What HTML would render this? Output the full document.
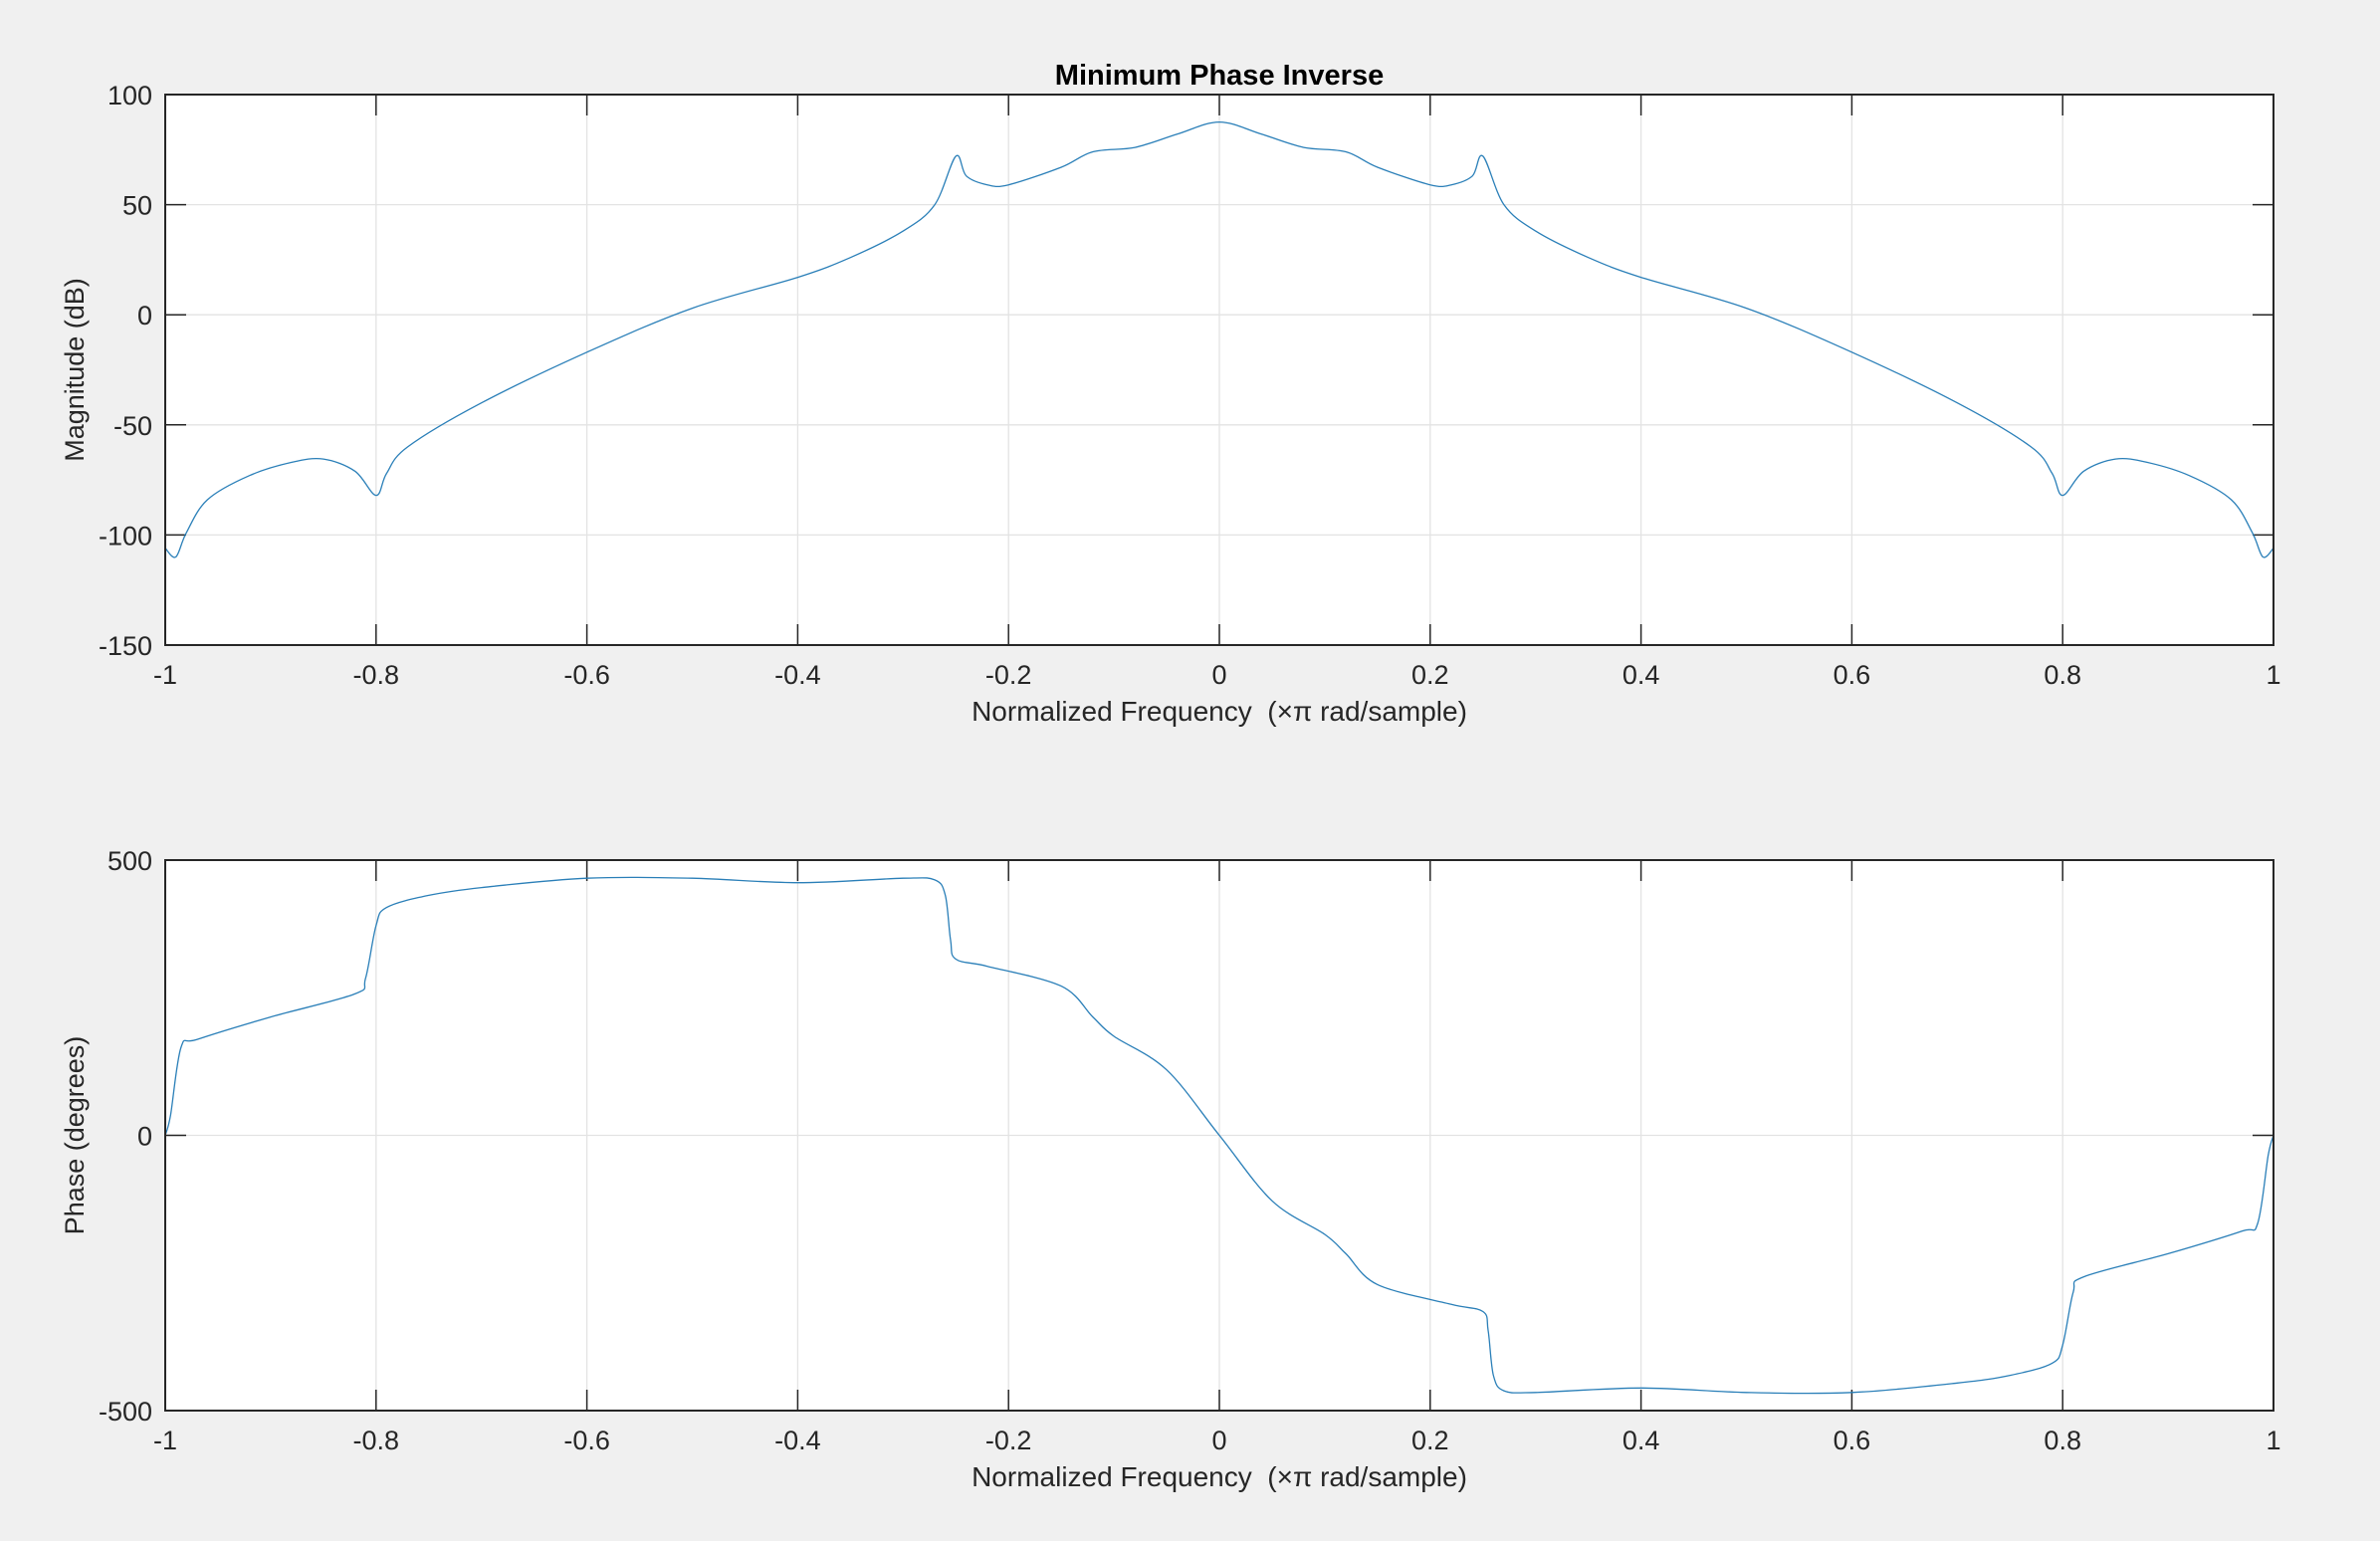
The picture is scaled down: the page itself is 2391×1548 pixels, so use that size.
<!DOCTYPE html>
<html><head><meta charset="utf-8"><style>
html,body{margin:0;padding:0;background:#f0f0f0;}
svg text{font-family:"Liberation Sans",Arial,sans-serif;fill:#262626;white-space:pre;}
</style></head><body>
<svg id="fig" width="2391" height="1543" viewBox="0 0 2391 1543" xmlns="http://www.w3.org/2000/svg">
<rect width="2391" height="1543" fill="#f0f0f0"/>
<text x="1225" y="85" text-anchor="middle" font-size="29" font-weight="bold" style="fill:#000">Minimum Phase Inverse</text>
<g id="top"></g>
<g id="bot"></g>
</svg>
<script>
const magX = [-1,-0.99,-0.98,-0.96,-0.92,-0.88,-0.85,-0.82,-0.8,-0.79,-0.77,-0.7,-0.6,-0.5,-0.4,-0.35,-0.3,-0.27,-0.25,-0.24,-0.22,-0.2,-0.15,-0.12,-0.08,-0.04,0];
const magY = [-106,-110,-99,-84,-73,-67,-65.5,-71,-82,-72,-60,-40,-17,3,17,26,38,50,72,63,59,59,67,74,76,82,87.5];
const phX = [-1,-0.995,-0.985,-0.97,-0.9,-0.82,-0.81,-0.8,-0.79,-0.75,-0.7,-0.6,-0.5,-0.4,-0.3,-0.27,-0.26,-0.255,-0.25,-0.22,-0.15,-0.12,-0.1,-0.05,0];
const phY = [0,36,160,174,215,257,285,381,414,436,450,467,467,459,467,464,436,354,320,307,271,215,180,119,0];
const xTicks = [-1,-0.8,-0.6,-0.4,-0.2,0,0.2,0.4,0.6,0.8,1];
const xTickLabels = ["-1","-0.8","-0.6","-0.4","-0.2","0","0.2","0.4","0.6","0.8","1"];
const magTicks = [-150,-100,-50,0,50,100];
const phTicks = [-500,0,500];

const NS="http://www.w3.org/2000/svg";
function mk(parent,tag,attrs){const e=document.createElementNS(NS,tag);for(const k in attrs)e.setAttribute(k,attrs[k]);parent.appendChild(e);return e;}
const L=166,R=2284;
function sx(v){return L+(v+1)/2*(R-L);}

function mirror(xs,ys,odd){
  const X=xs.slice(),Y=ys.slice();
  for(let i=xs.length-2;i>=0;i--){X.push(-xs[i]);Y.push(odd?-ys[i]:ys[i]);}
  return [X,Y];
}
function spline(px,py){
  let d="M"+px[0].toFixed(1)+","+py[0].toFixed(1);
  for(let i=0;i<px.length-1;i++){
    const x0=px[Math.max(i-1,0)],y0=py[Math.max(i-1,0)],x1=px[i],y1=py[i],x2=px[i+1],y2=py[i+1],x3=px[Math.min(i+2,px.length-1)],y3=py[Math.min(i+2,px.length-1)];
    const c1x=x1+(x2-x0)/6,c1y=y1+(y2-y0)/6,c2x=x2-(x3-x1)/6,c2y=y2-(y3-y1)/6;
    d+=" C"+c1x.toFixed(1)+","+c1y.toFixed(1)+" "+c2x.toFixed(1)+","+c2y.toFixed(1)+" "+x2.toFixed(1)+","+y2.toFixed(1);
  }
  return d;
}

function axes(g,T,B,ymin,ymax,yt,ylabel,xs,name){
  const sy=v=>B-(v-ymin)/(ymax-ymin)*(B-T);
  let r=mk(g,'rect',{x:L,y:T,width:R-L,height:B-T,fill:'#fff'});
  
  
  xTicks.forEach((v,i)=>{
    const x=sx(v);
    let gl=mk(g,'line',{x1:x,y1:T,x2:x,y2:B,stroke:'#e3e3e3','stroke-width':1.3});
    
    
    mk(g,'line',{x1:x,y1:B,x2:x,y2:B-21,stroke:'#262626','stroke-width':1.5});
    mk(g,'line',{x1:x,y1:T,x2:x,y2:T+21,stroke:'#262626','stroke-width':1.5});
    let t=mk(g,'text',{x:x,y:B+39,'text-anchor':'middle','font-size':27});
    t.textContent=xTickLabels[i];
    
    
  });
  yt.forEach(v=>{
    const y=sy(v);
    let gl=mk(g,'line',{x1:L,y1:y,x2:R,y2:y,stroke:'#e3e3e3','stroke-width':1.3});
    
    
    mk(g,'line',{x1:L,y1:y,x2:L+21,y2:y,stroke:'#262626','stroke-width':1.5});
    mk(g,'line',{x1:R,y1:y,x2:R-21,y2:y,stroke:'#262626','stroke-width':1.5});
    let t=mk(g,'text',{x:153,y:y+10,'text-anchor':'end','font-size':27});
    t.textContent=String(v);
    
    
  });
  const [X,Y]=xs;
  let p=mk(g,'path',{d:spline(X.map(sx),Y.map(sy)),fill:'none',stroke:'#2a7fb8','stroke-width':1.3});
  
  
  mk(g,'rect',{x:L,y:T,width:R-L,height:B-T,fill:'none',stroke:'#262626','stroke-width':2});
  let xl=mk(g,'text',{x:(L+R)/2,y:B+76,'text-anchor':'middle','font-size':28});
  xl.textContent="Normalized Frequency  (\u00d7\u03c0 rad/sample)";
  
  
  let yl=mk(g,'text',{x:0,y:0,'text-anchor':'middle','font-size':27,transform:'translate(84,'+((T+B)/2)+') rotate(-90)'});
  yl.textContent=ylabel;
  
  
}
axes(document.getElementById('top'),95,648,-150,100,magTicks,"Magnitude (dB)",mirror(magX,magY,false),'magnitude');
axes(document.getElementById('bot'),864,1417,-500,500,phTicks,"Phase (degrees)",mirror(phX,phY,true),'phase');
</script>
</body></html>
